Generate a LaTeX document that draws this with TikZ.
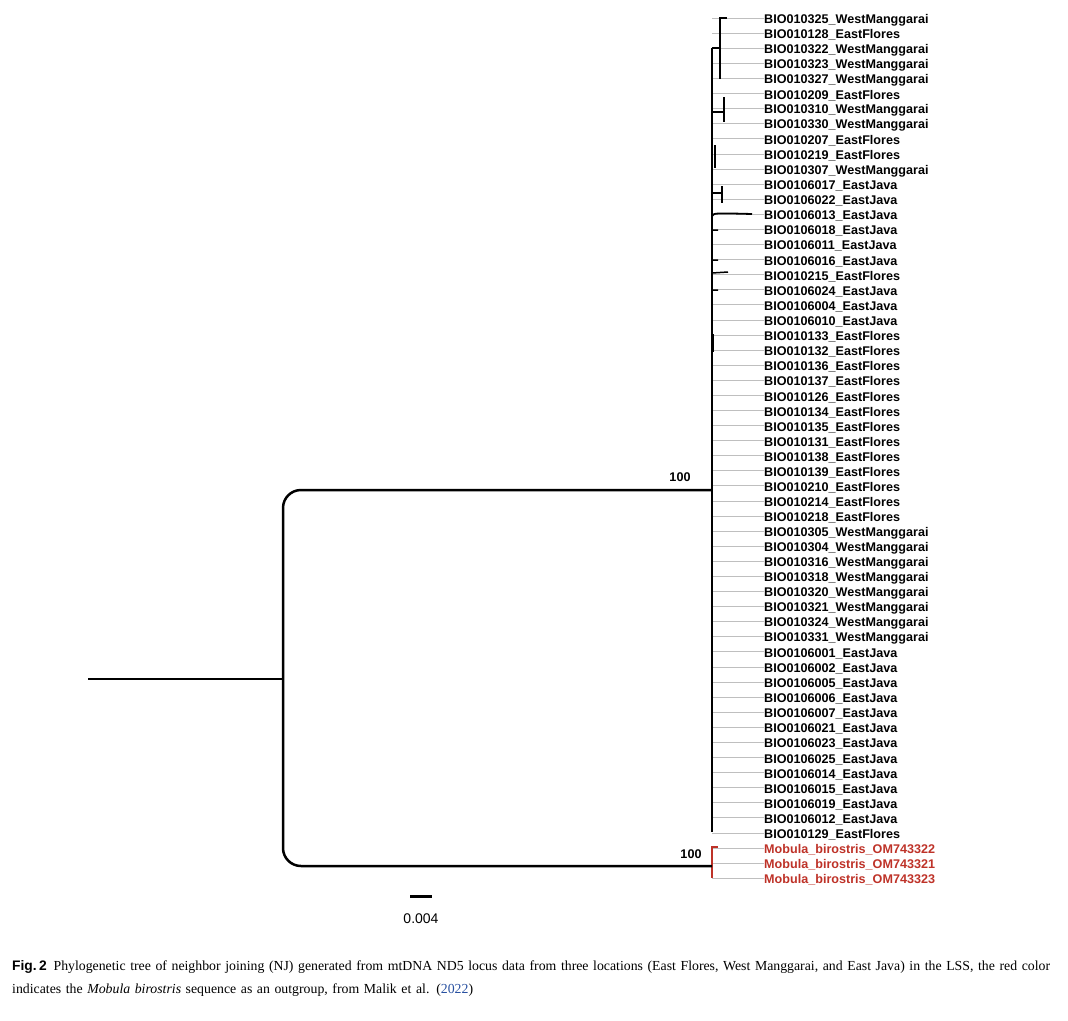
\documentclass[tikz,border=0pt]{standalone}
\usepackage{fontspec}
\setmainfont{Liberation Serif}
\newfontfamily\lab{Liberation Sans}
\begin{document}
\begin{tikzpicture}[x=1pt,y=-1pt,
  leaf/.style={anchor=west,inner sep=0pt,font=\lab\bfseries\fontsize{12.6}{13}\selectfont},
  tw/.style={line width=2.5pt,black},
  gl/.style={line width=0.6pt,black!25}]
\useasboundingbox (0,0) rectangle (1068,1020);
\definecolor{outg}{RGB}{190,50,40}
\def\ys{15.09}
% leaves
\foreach \t [count=\i] in {BIO010325_WestManggarai,BIO010128_EastFlores,BIO010322_WestManggarai,BIO010323_WestManggarai,BIO010327_WestManggarai,BIO010209_EastFlores,BIO010310_WestManggarai,BIO010330_WestManggarai,BIO010207_EastFlores,BIO010219_EastFlores,BIO010307_WestManggarai,BIO0106017_EastJava,BIO0106022_EastJava,BIO0106013_EastJava,BIO0106018_EastJava,BIO0106011_EastJava,BIO0106016_EastJava,BIO010215_EastFlores,BIO0106024_EastJava,BIO0106004_EastJava,BIO0106010_EastJava,BIO010133_EastFlores,BIO010132_EastFlores,BIO010136_EastFlores,BIO010137_EastFlores,BIO010126_EastFlores,BIO010134_EastFlores,BIO010135_EastFlores,BIO010131_EastFlores,BIO010138_EastFlores,BIO010139_EastFlores,BIO010210_EastFlores,BIO010214_EastFlores,BIO010218_EastFlores,BIO010305_WestManggarai,BIO010304_WestManggarai,BIO010316_WestManggarai,BIO010318_WestManggarai,BIO010320_WestManggarai,BIO010321_WestManggarai,BIO010324_WestManggarai,BIO010331_WestManggarai,BIO0106001_EastJava,BIO0106002_EastJava,BIO0106005_EastJava,BIO0106006_EastJava,BIO0106007_EastJava,BIO0106021_EastJava,BIO0106023_EastJava,BIO0106025_EastJava,BIO0106014_EastJava,BIO0106015_EastJava,BIO0106019_EastJava,BIO0106012_EastJava,BIO010129_EastFlores}
  {\node[leaf] (l\i) at (764,{20+(\i-1)*\ys}) {\detokenize\expandafter{\t}};
   \coordinate (e\i) at (712,{18+(\i-1)*\ys});
   \draw[gl] (e\i) -- (e\i -| l\i.west);}
\foreach \i in {56,57,58}{
  \node[leaf,text=outg] (l\i) at (764,{20+(\i-1)*\ys}) {Mobula\_birostris\_OM7433\ifcase\numexpr\i-56\relax 22\or 21\or 23\fi};
  \coordinate (e\i) at (712,{18+(\i-1)*\ys});
  \draw[gl] (e\i) -- (e\i -| l\i.west);}
% ingroup backbone
\draw[tw] (712,48) -- (712,832);
\draw[tw,line width=1.8pt] (712,48) -- (720,48) (720,18) -- (720,79) (719,18)--(727,18);
\draw[tw,line width=1.8pt] (712,112) -- (724,112) (724,97) -- (724,122);
\draw[tw,line width=1.8pt] (715,145) -- (715,168);
\draw[tw,line width=1.8pt] (712,193) -- (722,193) (722,186) -- (722,203);
\draw[tw,line width=1.8pt] (712,216) .. controls (714,213) .. (752,214);
\draw[tw,line width=1.5pt] (712,230)--(718,230) (712,260)--(718,260) (712,273)--(728,272) (712,290)--(718,290);
\draw[tw,line width=1.8pt] (713,334) -- (713,352);
% outgroup
\draw[tw,color=outg] (718,847) -- (712,847) -- (712,878);
% deep branches
\coordinate (root) at (88,679);
\coordinate (n0) at (283,679);
\coordinate (top) at (712,490);
\coordinate (bot) at (712,866);
\draw[tw] (root) -- (n0);
\draw[tw,rounded corners=18pt] (top) -- (283,490) -- (283,866) -- (bot);
\node[font=\lab\bfseries\fontsize{12.6}{13}\selectfont] (b1) at (680,477) {100};
\node[font=\lab\bfseries\fontsize{12.6}{13}\selectfont] (b2) at (691,854) {100};
% scale bar
\coordinate (s1) at (410,896); \coordinate (s2) at (432,896);
\draw[tw,line width=3pt] (s1) -- (s2);
\node[font=\lab\fontsize{14}{15}\selectfont] (sc) at (421,919) {0.004};
% caption
\node[anchor=north west,inner sep=0pt,text width=1040pt,align=left,font=\fontsize{13.8}{23}\selectfont] (cap) at (12,960)
 {{\lab\bfseries Fig.\,2}\enspace Phylogenetic tree of neighbor joining (NJ) generated from mtDNA ND5 locus data from three locations (East Flores, West Manggarai, and East Java) in the LSS, the red color indicates the \textit{Mobula birostris} sequence as an outgroup, from Malik et al. (\textcolor[RGB]{40,80,160}{2022})};
\end{tikzpicture}
\end{document}
